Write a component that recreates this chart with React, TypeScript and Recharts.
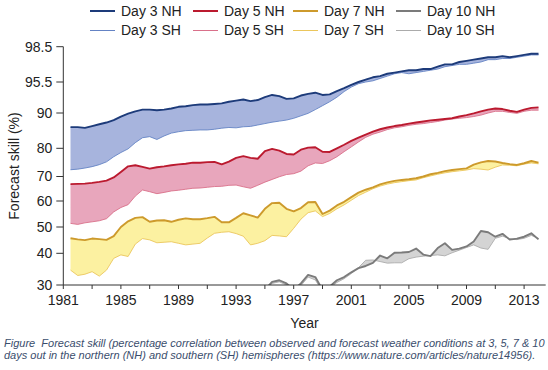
import { ComposedChart, Area, Line, XAxis, YAxis } from "recharts";

// half-year sampling
const years = [
  1981.5, 1982, 1982.5, 1983, 1983.5, 1984, 1984.5, 1985, 1985.5, 1986,
  1986.5, 1987, 1987.5, 1988, 1988.5, 1989, 1989.5, 1990, 1990.5, 1991,
  1991.5, 1992, 1992.5, 1993, 1993.5, 1994, 1994.5, 1995, 1995.5, 1996,
  1996.5, 1997, 1997.5, 1998, 1998.5, 1999, 1999.5, 2000, 2000.5, 2001,
  2001.5, 2002, 2002.5, 2003, 2003.5, 2004, 2004.5, 2005, 2005.5, 2006,
  2006.5, 2007, 2007.5, 2008, 2008.5, 2009, 2009.5, 2010, 2010.5, 2011,
  2011.5, 2012, 2012.5, 2013, 2013.5, 2014,
];

const day3NH = [
  86.0, 86.0, 85.8, 86.3, 86.8, 87.3, 88.0, 89.0, 89.8, 90.3,
  90.6, 90.6, 90.5, 90.6, 90.8, 91.1, 91.2, 91.4, 91.5, 91.5,
  91.6, 91.7, 92.0, 92.2, 92.4, 92.1, 92.3, 92.8, 93.2, 93.0,
  92.5, 92.6, 93.1, 93.4, 93.6, 93.2, 93.3, 93.9, 94.4, 95.0,
  95.5, 95.7, 95.9, 96.0, 96.2, 96.3, 96.4, 96.5, 96.5, 96.6,
  96.6, 96.8, 97.0, 97.0, 97.2, 97.3, 97.4, 97.5, 97.6, 97.6,
  97.7, 97.6, 97.7, 97.8, 97.9, 97.9,
];
const day3SH = [
  72.4, 72.6, 73.0, 73.5, 74.2, 75.2, 77.0, 78.5, 79.8, 81.6,
  83.0, 83.3, 82.5, 83.5, 84.3, 84.7, 85.0, 85.1, 85.2, 85.2,
  85.4, 85.7, 85.9, 85.8, 86.1, 86.2, 86.6, 87.0, 87.4, 87.7,
  88.0, 88.5, 89.2, 89.9, 90.6, 91.3, 92.0, 92.8, 93.8, 94.6,
  95.2, 95.5, 95.6, 95.8, 96.0, 96.2, 96.3, 96.2, 96.3, 96.4,
  96.5, 96.6, 96.8, 96.9, 97.0, 97.0, 97.1, 97.2, 97.4, 97.4,
  97.5, 97.5, 97.6, 97.7, 97.8, 97.8,
];
const day5NH = [
  66.9, 67.0, 67.1, 67.4, 67.8, 68.3, 69.6, 71.6, 73.6, 74.0,
  73.4, 72.8, 73.3, 73.6, 74.0, 74.3, 74.5, 74.9, 74.9, 75.1,
  75.2, 74.3, 75.3, 76.6, 77.2, 76.6, 76.3, 79.0, 79.8, 79.2,
  78.0, 77.8, 79.5, 80.2, 80.3, 78.8, 78.7, 80.0, 81.0, 82.1,
  83.0, 83.9, 84.7, 85.4, 85.9, 86.3, 86.6, 87.0, 87.3, 87.6,
  87.9, 88.1, 88.3, 88.5, 89.0, 89.4, 89.9, 90.3, 90.6, 90.8,
  90.7, 90.4, 90.2, 90.6, 90.9, 91.0,
];
const day5SH = [
  51.4, 51.0, 51.6, 52.0, 52.4, 53.2, 55.8, 57.5, 58.6, 62.0,
  64.5, 63.8, 63.0, 63.5, 64.1, 64.4, 64.8, 65.2, 65.3, 65.6,
  65.9, 66.0, 66.4, 66.5, 65.8, 65.2, 66.4, 67.7, 68.8, 69.9,
  70.7, 71.0, 71.9, 73.8, 74.8, 74.6, 75.6, 77.0, 78.8, 80.4,
  81.8, 83.1, 84.0, 84.6, 85.3, 85.8, 86.1, 86.5, 86.8, 87.0,
  87.3, 87.6, 88.0, 88.3, 88.5, 88.7, 89.0, 89.4, 90.0, 90.3,
  90.3, 90.1, 89.9, 90.3, 90.5, 90.5,
];
const day7NH = [
  45.7, 45.3, 45.0, 45.6, 45.4, 45.1, 46.5, 50.0, 52.2, 53.5,
  53.8, 52.0, 52.5, 52.6, 52.0, 52.8, 53.3, 53.0, 53.0, 53.4,
  53.9, 51.8, 51.8, 53.5, 55.3, 54.5, 53.6, 57.0, 59.2, 59.3,
  57.0, 56.0, 57.3, 59.5, 59.6, 55.0, 56.3, 58.3, 59.7, 61.6,
  63.4, 64.6, 65.6, 66.8, 67.6, 68.2, 68.6, 68.9, 69.3, 70.0,
  70.8, 71.3, 71.9, 72.3, 72.6, 72.9, 74.2, 75.0, 75.5, 75.3,
  74.8, 74.4, 74.1, 74.7, 75.5, 74.9,
];
const day7SH = [
  34.7, 33.0, 33.4, 34.2, 32.8, 34.7, 38.4, 39.5, 39.0, 43.5,
  45.6, 45.1, 44.0, 44.2, 44.4, 43.8, 43.2, 43.5, 43.8, 45.8,
  47.6, 48.0, 48.2, 47.5, 46.5, 43.2, 43.8, 44.8, 46.8, 46.6,
  46.3, 49.5, 53.0, 55.5, 56.2, 54.0, 55.2, 57.0, 58.5, 60.3,
  62.2, 63.6, 65.0, 66.1, 66.9, 67.5, 67.9, 68.3, 68.6, 69.5,
  70.2, 70.8, 71.3, 71.7, 72.0, 72.3, 72.8, 72.6, 72.3, 73.3,
  74.1, 74.0, 73.8, 74.4, 74.8, 74.5,
];
// day 10 only shows above the 30% floor, from 1995 on
const DAY10_FROM = 1995;
const day10NH = [
  28.5, 31.0, 31.5, 30.5, 28.5, 30.5, 33.2, 32.5, 28.5, 29.5,
  31.5, 32.5, 34.0, 35.3, 36.0, 37.0, 39.3, 38.4, 40.2, 40.3,
  40.5, 41.8, 39.6, 39.1, 42.0, 43.8, 41.3, 41.8, 42.6, 44.5,
  48.5, 48.0, 46.3, 47.4, 45.2, 45.6, 46.3, 47.6, 45.3,
];
const day10SH = [
  28.3, 30.5, 31.0, 30.0, 28.0, 29.8, 32.5, 31.6, 28.0, 29.0,
  30.8, 32.0, 33.6, 35.5, 37.8, 37.9, 37.4, 36.9, 37.0, 37.0,
  38.3, 38.8, 39.1, 39.3, 39.5, 39.2, 40.2, 41.2, 42.2, 43.2,
  42.0, 41.5, 45.7, 46.5, 45.6, 45.2, 45.7, 46.8, 45.7,
];

const yTickLabels = ["30", "40", "50", "60", "70", "80", "90", "95.5", "98.5"];
const xTicks = [1981, 1983, 1985, 1987, 1989, 1991, 1993, 1995, 1997, 1999, 2001, 2003, 2005, 2007, 2009, 2011, 2013];

// the published y axis is stretched unevenly; these are the tick heights (px above the 30 line)
const Y_STOPS = [30, 40, 50, 60, 70, 80, 90, 95.5, 98.5];
const Y_PIX = [0, 31.7, 58, 84, 108.5, 136.7, 172, 203, 238.3];

function warp(v: number | null) {
  if (v == null) return null;
  let i = 0;
  while (i < Y_STOPS.length - 2 && v > Y_STOPS[i + 1]) i++;
  const f = (v - Y_STOPS[i]) / (Y_STOPS[i + 1] - Y_STOPS[i]);
  return Y_PIX[i] + f * (Y_PIX[i + 1] - Y_PIX[i]);
}

const d10Offset = years.indexOf(DAY10_FROM);
const data = years.map((year, i) => ({
  year,
  nh3: day3NH[i],
  sh3: day3SH[i],
  nh5: day5NH[i],
  sh5: day5SH[i],
  nh7: day7NH[i],
  sh7: day7SH[i],
  nh10: i >= d10Offset ? day10NH[i - d10Offset] : null,
  sh10: i >= d10Offset ? day10SH[i - d10Offset] : null,
}));

const series = [
  { key: "3", nh: "#1d3b7a", sh: "#6483c4", fill: "#a7b4dd" },
  { key: "5", nh: "#bb1a2f", sh: "#d9708a", fill: "#e8a6bc" },
  { key: "7", nh: "#cd9a2c", sh: "#ebc65c", fill: "#fcf1a1" },
  { key: "10", nh: "#7b7b7b", sh: "#ababab", fill: "#d4d4d4" },
];

const FONT = '"Liberation Sans", Arial, Helvetica, sans-serif';

export default function App() {
  return (
    <div style={{ position: "absolute", left: 0, top: 0, width: 548, height: 370, background: "#fff", fontFamily: FONT, overflow: "hidden" }}>
      {series.map((s, col) => (
        <div key={s.key}>
          <LegendItem x={[90, 193, 293, 396][col]} y={11} color={s.nh} width={2.2} label={`Day ${s.key} NH`} />
          <LegendItem x={[90, 193, 293, 396][col]} y={30} color={s.sh} width={1} label={`Day ${s.key} SH`} />
        </div>
      ))}

      <div style={{ position: "absolute", top: 0, left: 0 }}>
        <ComposedChart width={548} height={330} data={data} margin={{ top: 46.7, right: 2.3, bottom: 15, left: 33.3 }}>
          <XAxis
            type="number"
            dataKey="year"
            domain={[1981, 2014.5]}
            allowDataOverflow
            ticks={xTicks}
            interval={0}
            tickFormatter={(v) => ((v - 1981) % 4 === 0 ? String(v) : "")}
            tick={{ fontSize: 14, fill: "#222", fontFamily: FONT }}
            tickSize={4}
            tickMargin={6}
            height={30}
            stroke="#333"
          />
          <XAxis xAxisId="top" orientation="top" type="number" domain={[1981, 2014.5]} height={0} tick={false} tickLine={false} stroke="#8a8a8a" />
          <YAxis
            type="number"
            domain={[0, 238.3]}
            allowDataOverflow
            ticks={Y_PIX}
            interval={0}
            tickFormatter={(v) => yTickLabels[Y_PIX.indexOf(v)]}
            tick={{ fontSize: 14, fill: "#222", fontFamily: FONT }}
            tickSize={7}
            tickMargin={4}
            width={30}
            stroke="#333"
          />
          <YAxis yAxisId="right" orientation="right" type="number" domain={[0, 238.3]} width={0} tick={false} tickLine={false} stroke="#8a8a8a" />

          {series.map((s) => (
            <Area
              key={"a" + s.key}
              type="linear"
              dataKey={(d: any) => (d["nh" + s.key] == null ? null : [warp(d["sh" + s.key]), warp(d["nh" + s.key])])}
              fill={s.fill}
              fillOpacity={1}
              stroke="none"
              isAnimationActive={false}
            />
          ))}
          {series.map((s) => (
            <Line
              key={"s" + s.key}
              type="linear"
              dataKey={(d: any) => warp(d["sh" + s.key])}
              stroke={s.sh}
              strokeWidth={0.9}
              dot={false}
              isAnimationActive={false}
            />
          ))}
          {series.map((s) => (
            <Line
              key={"n" + s.key}
              type="linear"
              dataKey={(d: any) => warp(d["nh" + s.key])}
              stroke={s.nh}
              strokeWidth={1.9}
              strokeLinejoin="round"
              dot={false}
              isAnimationActive={false}
            />
          ))}
        </ComposedChart>
      </div>

      <div style={{ position: "absolute", left: 14, top: 166, transform: "translate(-50%, -50%) rotate(-90deg)", fontSize: 14, color: "#222", whiteSpace: "nowrap" }}>
        Forecast skill (%)
      </div>
      <div style={{ position: "absolute", left: 304.5, top: 323, transform: "translate(-50%, -50%)", fontSize: 14, color: "#222" }}>
        Year
      </div>
      <div style={{ position: "absolute", left: 4, top: 337, fontSize: 11, lineHeight: "12px", fontStyle: "italic", color: "#3a4d6c", whiteSpace: "nowrap" }}>
        Figure&nbsp; Forecast skill (percentage correlation between observed and forecast weather conditions at 3, 5, 7 &amp; 10
        <br />
        days out in the northern (NH) and southern (SH) hemispheres (https://www.nature.com/articles/nature14956).
      </div>
    </div>
  );
}

function LegendItem({ x, y, color, width, label }: { x: number; y: number; color: string; width: number; label: string }) {
  return (
    <div style={{ position: "absolute", left: x, top: y - 9, height: 18, display: "flex", alignItems: "center", fontSize: 14, color: "#222", whiteSpace: "nowrap" }}>
      <span style={{ display: "inline-block", width: 25, height: width, background: color, marginRight: 6 }} />
      {label}
    </div>
  );
}
